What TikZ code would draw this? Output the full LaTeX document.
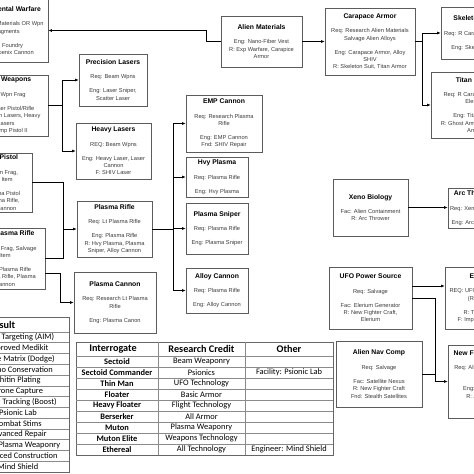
\documentclass[tikz,border=0pt]{standalone}
\usepackage{fontspec}
\setmainfont{Liberation Sans}
\newfontfamily\tabfont{Carlito}
\usetikzlibrary{arrows.meta}

\definecolor{boxline}{HTML}{5C5C5C}
\definecolor{bodytext}{HTML}{3C3C3C}
\definecolor{tabline}{HTML}{8A8A8A}

\tikzset{
  techbox/.style={draw=boxline, line width=0.75pt, align=center, inner sep=1pt,
    font=\fontsize{5.7}{7.4}\selectfont, text=bodytext},
  wire/.style={black, line width=0.55pt},
  feed/.style={wire, -{Latex[length=3.4pt,width=2.8pt]}},
  tabrule/.style={tabline, line width=0.7pt},
  tabframe/.style={black!60, line width=0.9pt},
  tabhead/.style={inner sep=0pt, font=\tabfont\bfseries\fontsize{10.2}{11}\selectfont},
  tabkey/.style={inner sep=0pt, font=\tabfont\bfseries\fontsize{8.4}{9}\selectfont},
  tabcell/.style={inner sep=0pt, font=\tabfont\fontsize{8.4}{9}\selectfont},
}
\newcommand{\boxhead}[1]{{\color{black}\fontsize{6.8}{7.4}\selectfont\bfseries #1}}
\def\tg{7pt}
\def\grp{6.6pt}
% box by its edges: name, left, right, top, bottom, text
\newcommand{\tbox}[6]{%
  \node[techbox, minimum width={(#3)-(#2)}, minimum height={(#5)-(#4)}]
    (#1) at ({((#2)+(#3))/2}, {((#4)+(#5))/2}) {#6};}

\begin{document}
\begin{tikzpicture}[x=1pt, y=-1pt]
  \useasboundingbox (0,0) rectangle (474,474);
  \fill[white] (0,0) rectangle (474,474);
  \clip (0,0) rectangle (474,474);

  % weapons column
  \tbox{expwar}{-36}{48}{-1}{62}{\boxhead{Experimental Warfare}\\[\tg] Req: Alien Materials OR Wpn\\ Fragments\\[\grp] Fac: Foundry\\ Fnd: Phoenix Cannon}
  \tbox{beamwpn}{-36}{48}{75}{136}{\boxhead{Beam Weapons}\\[\tg] Req: Wpn Frag\\[\grp] Eng: Laser Pistol/Rifle\\ R: Precision Lasers, Heavy\\ Lasers\\ Fnd: Imp Pistol II}
  \tbox{ppistol}{-40}{32}{153}{212}{\boxhead{Plasma Pistol}\\[\tg] Req: Beam Frag,\\ Salvage Item\\[\grp] Eng: Plasma Pistol\\ R: Lt Plasma Rifle,\\ Plasma Cannon}
  \tbox{lprifle}{-35}{45}{228}{289}{\boxhead{Light Plasma Rifle}\\[\tg] Req: Wpn Frag, Salvage\\ Item\\[\grp] Eng: Lt Plasma Rifle\\ R: Plasma Rifle, Plasma\\ Cannon}

  \tbox{preclas}{79}{147}{54}{106}{\boxhead{Precision Lasers}\\[\tg] Req: Beam Wpns\\[\grp] Eng: Laser Sniper,\\ Scatter Laser}
  \tbox{hvylas}{76}{151}{123}{179}{\boxhead{Heavy Lasers}\\[\tg] REQ: Beam Wpns\\[\grp] Eng: Heavy Laser, Laser\\ Cannon\\ F: SHIV Laser}
  \tbox{prifle}{77}{152}{201}{257}{\boxhead{Plasma Rifle}\\[\tg] Req: Lt Plasma Rifle\\[\grp] Eng: Plasma Rifle\\ R: Hvy Plasma, Plasma\\ Sniper, Alloy Cannon}
  \tbox{pcannon}{74}{156}{272}{333}{\boxhead{Plasma Cannon}\\[\tg] Req: Research Lt Plasma\\ Rifle\\[\grp] Eng: Plasma Canon}

  \tbox{emp}{186}{262}{95}{152}{\boxhead{EMP Cannon}\\[\tg] Req: Research Plasma\\ Rifle\\[\grp] Eng: EMP Cannon\\ Fnd: SHIV Repair}
  \tbox{hvypl}{186}{248}{157}{197}{\boxhead{Hvy Plasma}\\[\tg] Req: Plasma Rifle\\[\grp] Eng: Hvy Plasma}
  \tbox{psniper}{186}{248}{203}{254}{\boxhead{Plasma Sniper}\\[\tg] Req: Plasma Rifle\\[\grp] Eng: Plasma Sniper}
  \tbox{alloy}{186}{248}{268}{313}{\boxhead{Alloy Cannon}\\[\tg] Req: Plasma Rifle\\[\grp] Eng: Alloy Cannon}

  % armour and alien tech
  \tbox{alienmat}{221}{302}{16}{67}{\boxhead{Alien Materials}\\[\tg] Eng: Nano-Fiber Vest\\ R: Exp Warfare, Carapice\\ Armor}
  \tbox{carapace}{325}{415}{8}{75}{\boxhead{Carapace Armor}\\[\tg] Req: Research Alien Materials\\ Salvage Alien Alloys\\[\grp] Eng: Carapace Armor, Alloy\\ SHIV\\ R: Skeleton Suit, Titan Armor}
  \tbox{skel}{441}{509}{7}{59}{\boxhead{Skeleton Suit}\\[\tg] Req: R Carapace Armor\\[\grp] Eng: Skeleton Suit}
  \tbox{titan}{431}{519}{72}{138}{\boxhead{Titan Armor}\\[\tg] Req: R Carapace Armor,\\ Elerium\\[\grp] Eng: Titan Armor\\ R: Ghost Armor, Archangel\\ Armor}
  \tbox{xeno}{333}{408}{179}{236}{\boxhead{Xeno Biology}\\[\tg] Fac: Alien Containment\\ R: Arc Thrower}
  \tbox{arc}{448}{500}{188}{228}{\boxhead{Arc Thrower}\\[\tg] Req: Xeno Biology\\[\grp] Eng: Arc Thrower}
  \tbox{ufo}{329}{412}{267}{329}{\boxhead{UFO Power Source}\\[\tg] Req: Salvage\\[\grp] Fac: Elerium Generator\\ R: New Fighter Craft,\\ Elerium}
  \tbox{elerium}{445}{519}{267}{329}{\boxhead{Elerium}\\[\tg] REQ: UFO Power Source\\ (Research)\\[\grp] R: Titan Armor\\ F: Imp Arc Thrower}
  \tbox{navcomp}{336}{422}{341}{407}{\boxhead{Alien Nav Comp}\\[\tg] Req: Salvage\\[\grp] Fac: Satellite Nexus\\ R: New Fighter Craft\\ Fnd: Stealth Satellites}
  \tbox{nfc}{448}{516}{345}{418}{}
  \node[techbox, draw=none, anchor=north] (nfctext) at ([yshift=-4.5pt]nfc.north)
    {\boxhead{New Fighter Craft}\\[\tg] Req: Alien Nav Comp\\[13.6pt] Eng: Firestorm\\ R: Anti-Grav};

  % connectors
  \coordinate (bwj) at (62,0);
  \draw[wire] (beamwpn.east) -- (beamwpn.east -| bwj);
  \draw[feed] (beamwpn.east -| bwj) |- (preclas.west);
  \draw[feed] (beamwpn.east -| bwj) |- (hvylas.west);

  \coordinate (prj) at (63,0);
  \draw[wire] (ppistol.east) -| (prj |- lprifle.east) -- (lprifle.east);
  \draw[feed] (prj |- prifle.west) -- (prifle.west);

  \coordinate (pcj) at (60,0);
  \coordinate (lpr2) at ([yshift=-15pt]lprifle.east);
  \draw[feed] (lpr2) -| (pcj |- pcannon.west) -- (pcannon.west);

  \coordinate (pwj) at (173,0);
  \draw[wire] (prifle.east) -- (prifle.east -| pwj);
  \foreach \t in {emp,hvypl,psniper,alloy}
    \draw[feed] (prifle.east -| pwj) |- (\t.west);

  \draw[feed] (alienmat.west) -- ++(-14,0) |- (expwar.east);
  \draw[feed] (alienmat.east) -- (carapace.west);
  \draw[wire] (carapace.east) -- ++(7,0) coordinate (caj);
  \draw[feed] (caj) |- (skel.west);
  \draw[feed] (caj) |- (titan.west);

  \draw[feed] (xeno.east) -- (xeno.east -| arc.west);

  \coordinate (ufo2) at ([yshift=12pt]ufo.east);
  \draw[feed] (ufo2) -- (ufo2 -| elerium.west);
  \coordinate (nfj) at (435,0);
  \draw[feed] (ufo.east) -| (nfj |- nfc.west) -- (nfc.west);
  \draw[wire] (navcomp.east) -- (navcomp.east -| nfj);

  % result table
  \def\rtop{317} \def\rhead{332} \def\rstep{10.77} \def\rright{69}
  \draw[tabframe] (-40,\rtop) rectangle (\rright,{\rhead+13*\rstep});
  \draw[tabrule] (-40,\rhead) -- (\rright,\rhead);
  \foreach \k in {1,...,12}
    \draw[tabrule] (-40,{\rhead+\k*\rstep}) -- (\rright,{\rhead+\k*\rstep});
  \node[tabhead] (reshead) at (2,324.5) {Result};
  \foreach \res [count=\i] in {Laser Targeting (AIM), Improved Medikit, Probe Matrix (Dodge),
      Ammo Conservation, Chitin Plating, Drone Capture, Target Tracking (Boost), Psionic Lab,
      Combat Stims, Advanced Repair, Heavy Plasma Weaponry, Advanced Construction, Mind Shield}
    \node[tabcell] (res\i) at (18,{\rhead+(\i-0.5)*\rstep}) {\res};

  % interrogation table
  \def\ileft{76} \def\icolA{158} \def\icolB{245} \def\iright{333}
  \def\itop{342} \def\ihead{356} \def\ibot{455}
  \draw[tabframe] (\ileft,\itop) rectangle (\iright,\ibot);
  \draw[tabrule] (\ileft,\ihead) -- (\iright,\ihead);
  \draw[tabrule] (\icolA,\itop) -- (\icolA,\ibot);
  \draw[tabrule] (\icolB,\itop) -- (\icolB,\ibot);
  \foreach \k in {1,...,8}
    \draw[tabrule] (\ileft,{\ihead+11*\k}) -- (\iright,{\ihead+11*\k});
  \node[tabhead] (hwho) at (113,349) {Interrogate};
  \node[tabhead] (hcred) at (201.5,349) {Research Credit};
  \node[tabhead] (hoth) at (289,349) {Other};
  \foreach \who/\cred/\oth [count=\i] in {Sectoid/Beam Weaponry/{},
      Sectoid Commander/Psionics/Facility: Psionic Lab, Thin Man/UFO Technology/{},
      Floater/Basic Armor/{}, Heavy Floater/Flight Technology/{}, Berserker/All Armor/{},
      Muton/Plasma Weaponry/{}, Muton Elite/Weapons Technology/{},
      Ethereal/All Technology/Engineer: Mind Shield} {
    \node[tabkey] (who\i) at (117,{\ihead+11*\i-5.5}) {\who};
    \node[tabcell] (cred\i) at (201.5,{\ihead+11*\i-5.5}) {\cred};
    \node[tabcell] (oth\i) at (289,{\ihead+11*\i-5.5}) {\oth};
  }
\end{tikzpicture}
\end{document}
